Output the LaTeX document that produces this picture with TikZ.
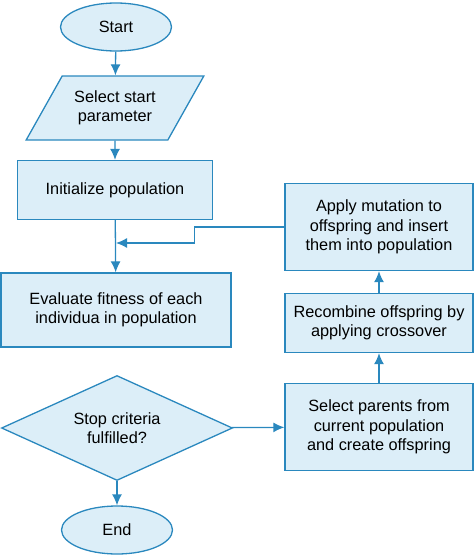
\documentclass[tikz,border=0pt]{standalone}
\usepackage{fontspec}
\setmainfont{Liberation Sans}
\usetikzlibrary{arrows.meta, positioning, shapes.geometric}
\definecolor{flowLine}{HTML}{2A88BE}
\definecolor{flowFill}{HTML}{DCEEF8}
\tikzset{
  procbox/.style={
    draw=flowLine, line width=1.3pt, fill=flowFill,
    minimum width=#1, align=center, font=\fontsize{16.3}{19.5}\selectfont
  },
  termnode/.style={
    ellipse, draw=flowLine, line width=1.3pt, fill=flowFill,
    minimum width=111pt, minimum height=48pt, font=\fontsize{16.3}{19.5}\selectfont
  },
  arr/.style={-{Latex[length=11pt, width=10pt]}, line width=1.3pt, draw=flowLine}
}

\begin{document}
\begin{tikzpicture}[x=1pt, y=-1pt,
  inputbox/.style={trapezium, trapezium stretches=true, trapezium left angle=54,
    trapezium right angle=126, draw=flowLine, line width=1.3pt, fill=flowFill,
    minimum width=178pt, minimum height=64pt, align=center, font=\fontsize{16.3}{19.5}\selectfont},
  decision/.style={diamond, aspect=2.2, draw=flowLine, line width=1.3pt, fill=flowFill,
    minimum width=231pt, minimum height=105pt, align=center, inner sep=0pt,
    font=\fontsize{16.3}{19.5}\selectfont}
]
\useasboundingbox (0,0) rectangle (474,557);

% main column
\node[termnode] (start) at (116,27) {Start};
\node[inputbox] (param) at (115,108) {Select start\\parameter};
\node[procbox=195pt, minimum height=59pt] (init) at (115,190) {Initialize population};
\node[procbox=230pt, minimum height=74pt] (eval) at (116,310) {Evaluate fitness of each\\individua in population};
\node[decision] (stop) at (117,428) {Stop criteria\\fulfilled?};
\node[termnode] (end) at (117,530) {End};

% loop column
\node[procbox=188pt, minimum height=87pt] (apply) at (379,227) {Apply mutation to\\offspring and insert\\them into population};
\node[procbox=188pt, minimum height=59pt] (recomb) at (379,323) {Recombine offspring by\\applying crossover};
\node[procbox=188pt, minimum height=87pt] (select) at (379,427) {Select parents from\\current population\\and create offspring};

\coordinate (merge) at (116,243);

\draw[arr] (start) -- (param);
\draw[arr] (param) -- (init);
\draw[arr] (init) -- (eval);
\draw[arr] (stop) -- (end);
\draw[arr] (stop) -- (select);
\draw[arr] (select) -- (recomb);
\draw[arr] (recomb) -- (apply);
\draw[arr] (apply.west) -- ++(-90,0) |- (merge);

\end{tikzpicture}
\end{document}
